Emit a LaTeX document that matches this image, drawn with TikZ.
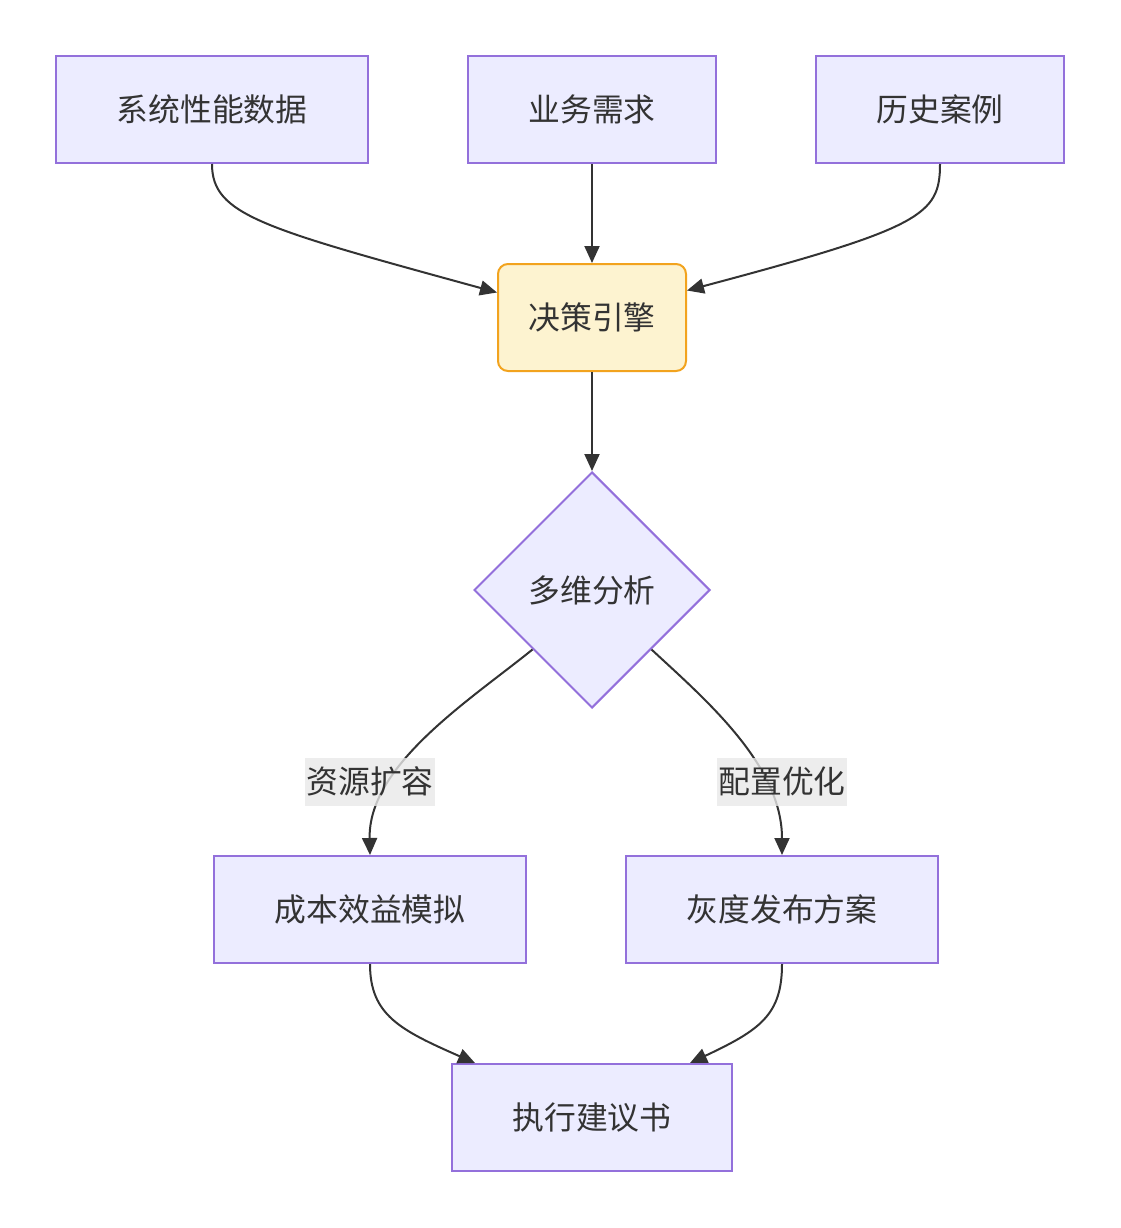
\documentclass[tikz,border=0pt]{standalone}
\usepackage{fontspec}
\newfontfamily\cjk{Noto Sans CJK SC}
\usetikzlibrary{shapes.geometric,arrows.meta}
\definecolor{boxfill}{HTML}{ECECFF}
\definecolor{boxline}{HTML}{9370DB}
\definecolor{inkcol}{HTML}{333333}
\definecolor{corefill}{HTML}{FDF3D0}
\definecolor{coreline}{HTML}{F2A31E}
\definecolor{lblfill}{HTML}{E8E8E8}

\begin{document}
\begin{tikzpicture}[x=1pt,y=-1pt,
    font=\cjk\fontsize{31.8}{38}\selectfont,
    box/.style={draw=boxline,fill=boxfill,line width=2pt,text=inkcol,
      minimum height=107pt,inner sep=0pt},
    core/.style={box,draw=coreline,fill=corefill,rounded corners=10pt},
    choice/.style={box,diamond,aspect=1,minimum width=236pt,minimum height=236pt},
    edgelbl/.style={fill=lblfill,fill opacity=0.8,text opacity=1,text=inkcol,
      inner xsep=1pt,inner ysep=0pt,minimum height=48pt},
    flow/.style={draw=inkcol,line width=2pt,
      -{Triangle[length=17pt,width=15pt]}}]
  \useasboundingbox (0,0) rectangle (1120,1228);

  % sources
  \node[box,minimum width=312pt] (perf) at (212,109.5) {系统性能数据};
  \node[box,minimum width=248pt] (biz) at (592,109.5) {业务需求};
  \node[box,minimum width=248pt] (hist) at (940,109.5) {历史案例};

  % engine and analysis
  \node[core,minimum width=188pt] (engine) at (592,317.5) {决策引擎};
  \node[choice] (multi) at (592,590) {多维分析};

  % outcomes
  \node[box,minimum width=312pt] (cost) at (370,909.5) {成本效益模拟};
  \node[box,minimum width=312pt] (gray) at (782,909.5) {灰度发布方案};
  \node[box,minimum width=280pt] (report) at (592,1117.5) {执行建议书};

  \draw[flow] (perf.south) .. controls (212,215) and (262,228) .. ([yshift=25pt]engine.west);
  \draw[flow] (biz.south) -- (engine.north);
  \draw[flow] (hist.south) .. controls (940,215) and (922,228) .. ([yshift=27pt]engine.east);
  \draw[flow] (engine.south) -- (multi.north);

  \draw[flow] (multi.south west) .. controls (470,700) and (368,765) .. (cost.north);
  \draw[flow] (multi.south east) .. controls (706,700) and (782,765) .. (gray.north);
  \node[edgelbl] (lblscale) at (370,781.5) {资源扩容};
  \node[edgelbl] (lbltune) at (782,781.5) {配置优化};

  \draw[flow] (cost.south) .. controls (370,1015) and (400,1030) .. ([xshift=-117pt]report.north);
  \draw[flow] (gray.south) .. controls (782,1015) and (760,1030) .. ([xshift=98pt]report.north);
\end{tikzpicture}
\end{document}
